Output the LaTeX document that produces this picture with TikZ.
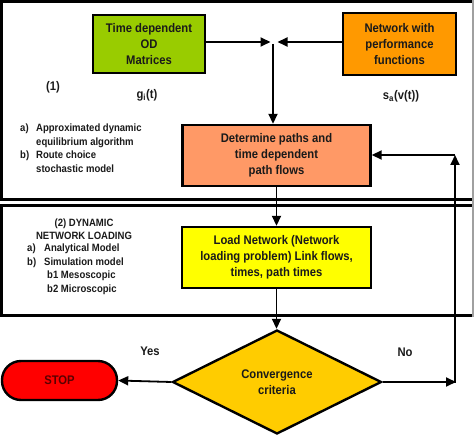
\documentclass[tikz,border=0pt]{standalone}
\usepackage{fontspec}
\setmainfont{Liberation Sans}[FakeStretch=0.9]
\usetikzlibrary{shapes.geometric,arrows.meta}
\definecolor{odgreen}{HTML}{99CC00}
\definecolor{netorange}{HTML}{FF9900}
\definecolor{salmonbox}{HTML}{FF9966}
\definecolor{loadyellow}{HTML}{FFFF00}
\definecolor{gold}{HTML}{FFCC00}
\definecolor{stopfill}{HTML}{FF0000}
\definecolor{stoptext}{HTML}{5A0000}
\definecolor{textdark}{HTML}{1A1A1A}
\definecolor{edgegray}{HTML}{A0A0A0}
\begin{document}
\begin{tikzpicture}[x=1pt,y=-1pt,
  box/.style={draw=black, line width=2.4pt, inner sep=0pt, align=center, text=textdark,
    font=\bfseries\fontsize{12.5}{16}\selectfont},
  arr/.style={line width=1.8pt, -{Triangle[length=10pt,width=9pt]}},
  lbl/.style={font=\bfseries\fontsize{12.5}{15}\selectfont, text=textdark, inner sep=0pt},
  small/.style={font=\bfseries\fontsize{10.6}{13.4}\selectfont, text=textdark, inner sep=0pt},
  frame/.style={line width=3pt, line join=miter}]
\useasboundingbox (0,0) rectangle (474,435);
% frames
\draw[frame] (473,1.5) -- (1.5,1.5) -- (1.5,200) -- (473,200);
\draw[frame] (473,205.5) -- (1.5,205.5) -- (1.5,315.5) -- (473,315.5);
\draw[edgegray, line width=2pt] (472.5,0) -- (472.5,317);
% boxes
\node[box, fill=odgreen, minimum width=112pt, minimum height=58pt] (od) at (149,44) {Time dependent\\OD\\Matrices};
\node[box, fill=netorange, minimum width=113pt, minimum height=62pt] (net) at (399.5,44) {Network with\\performance\\functions};
\node[box, fill=salmonbox, minimum width=188pt, minimum height=61pt] (det) at (276.5,155.5) {Determine paths and\\time dependent\\path flows};
\node[box, fill=loadyellow, minimum width=189pt, minimum height=61pt] (load) at (276.5,257.5) {Load Network (Network\\loading problem) Link flows,\\times, path times};
\node[box, diamond, fill=gold, minimum width=209pt, minimum height=104pt] (conv) at (277,382) {Convergence\\criteria};
\node[box, fill=stopfill, rounded corners=19pt, minimum width=115pt, minimum height=39pt, text=stoptext] (stop) at (59.5,380.5) {STOP};
% labels
\node[lbl] (one) at (53,87) {(1)};
\node[lbl] (g) at (147,95) {g\textsubscript{i}(t)};
\node[lbl] (s) at (401,96) {s\textsubscript{a}(v(t))};
\node[lbl] (yes) at (150,351) {Yes};
\node[lbl] (no) at (405,352) {No};
\node[small, align=left, anchor=north west] (list1) at (20,124) {\makebox[16pt][l]{a)}Approximated dynamic\\\hspace*{16pt}equilibrium algorithm\\\makebox[16pt][l]{b)}Route choice\\\hspace*{16pt}stochastic model};
\node[small, align=center] (dnl) at (84,229.5) {(2) DYNAMIC\\NETWORK LOADING};
\node[small, align=left, anchor=north west] (list2) at (27,244) {\makebox[17pt][l]{a)}Analytical Model\\\makebox[17pt][l]{b)}Simulation model\\\hspace*{20pt}b1 Mesoscopic\\\hspace*{20pt}b2 Microscopic};
% junction and connectors
\coordinate (jl) at (270.5,42);
\coordinate (jr) at (277.5,42);
\coordinate (jt) at (273,44);
\coordinate (fb) at (456,382);
\coordinate (fbt) at (455,155);
\coordinate (fbb) at (455,383);
\draw[arr] (od.east |- jl) -- (jl);
\draw[arr] (net.west |- jr) -- (jr);
\draw[arr] (jt) -- (jt |- det.north);
\draw[arr] (det.south) -- (load.north);
\draw[arr] (load.south) -- (load.south |- conv.north);
\draw[arr] (conv.west) -- (stop.east);
\draw[arr] (conv.east) -- (fb);
\draw[arr] (fbb) -- (fbt);
\draw[arr] (fbt) -- (det.east |- fbt);
\end{tikzpicture}
\end{document}
